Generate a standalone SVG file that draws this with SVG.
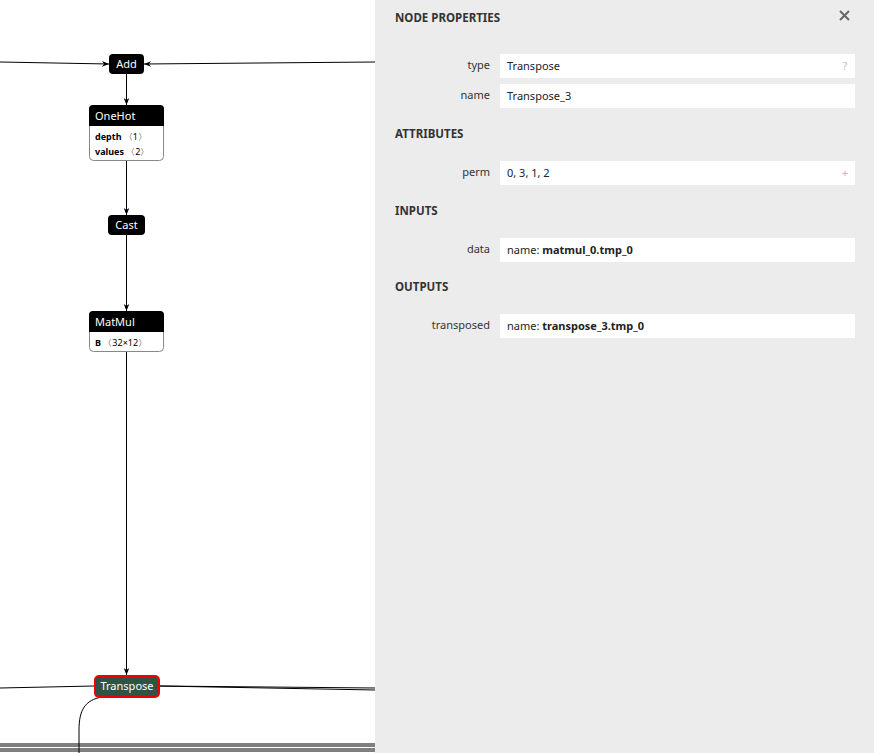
<svg xmlns="http://www.w3.org/2000/svg" width="874" height="753" viewBox="0 0 874 753">
<defs>
<marker id="ah" viewBox="0 0 10 10" refX="10" refY="5" markerWidth="7" markerHeight="7" orient="auto" markerUnits="userSpaceOnUse"><path d="M0,1 L10,5 L0,9 L3,5 Z" fill="#000"/></marker>
<style>
text{font-family:"Noto Sans","DejaVu Sans",sans-serif}
.e{fill:none;stroke:#000;stroke-width:1}
.hd{fill:#000}
.nt{fill:#fff;font-size:11px}
.at{font-size:9px;fill:#000}
.lb{font-size:11px;fill:#333;text-anchor:end}
.fv{font-size:11px;fill:#222}
.fb{fill:#fff}
.sh{font-size:11.5px;font-weight:bold;fill:#333}
</style>
</defs>
<rect width="874" height="753" fill="#fff"/>
<g id="connectors">
<path class="e" d="M0,62 L109,64" marker-end="url(#ah)"/>
<path class="e" d="M375,62 L144,64" marker-end="url(#ah)"/>
<path class="e" d="M126.5,74 V105" marker-end="url(#ah)"/>
<path class="e" d="M126.5,161 V215" marker-end="url(#ah)"/>
<path class="e" d="M126.5,235 V311" marker-end="url(#ah)"/>
<path class="e" d="M126.5,352 V675" marker-end="url(#ah)"/>
<path class="e" d="M0,688 L94,686"/>
<path class="e" d="M159,686 L375,688" stroke-width="1.3"/>
<path class="e" d="M159,686 L375,690" stroke="#555"/>
<path class="e" d="M102,697 C85,700 79,710 79,730 V753"/>
<path class="e" d="M0,744 H375" stroke="#777"/>
<path class="e" d="M0,746 H375" stroke="#555"/>
<path class="e" d="M0,749 H375" stroke="#333"/>
<path class="e" d="M0,751 H375" stroke="#222"/>
</g>
<g id="node-add"><rect x="109" y="54" width="35" height="20" rx="4" class="hd"/><text x="126.5" y="68" class="nt" text-anchor="middle">Add</text></g>
<g id="node-onehot"><rect x="89.5" y="105.5" width="74" height="55" rx="4" fill="#fff" stroke="#888"/><path d="M89,126 V109 a4,4 0 0 1 4,-4 H160 a4,4 0 0 1 4,4 V126 Z" class="hd"/><text x="95" y="120" class="nt">OneHot</text><text x="95" y="140" class="at"><tspan font-weight="bold">depth</tspan> 〈1〉</text><text x="95" y="155" class="at"><tspan font-weight="bold">values</tspan> 〈2〉</text></g>
<g id="node-cast"><rect x="108" y="215" width="37" height="20" rx="4" class="hd"/><text x="126.5" y="229" class="nt" text-anchor="middle">Cast</text></g>
<g id="node-matmul"><rect x="89.5" y="311.5" width="74" height="40" rx="4" fill="#fff" stroke="#888"/><path d="M89,332 V315 a4,4 0 0 1 4,-4 H160 a4,4 0 0 1 4,4 V332 Z" class="hd"/><text x="95" y="326" class="nt">MatMul</text><text x="95" y="346" class="at"><tspan font-weight="bold">B</tspan> 〈32×12〉</text></g>
<g id="node-transpose"><rect x="95" y="676" width="64" height="21" rx="4" fill="#2f5445" stroke="#e00" stroke-width="2"/><text x="127" y="690" class="nt" text-anchor="middle">Transpose</text></g>
<g id="panel">
<rect x="375" y="0" width="499" height="753" fill="#ececec"/>
<text x="395" y="22" class="sh">NODE PROPERTIES</text>
<path d="M840,11 L849,20 M849,11 L840,20" stroke="#666" stroke-width="2" fill="none"/>
<text x="490" y="69" class="lb">type</text><rect x="500" y="54" width="355" height="24" class="fb"/><text x="507" y="70" class="fv">Transpose</text><text x="845" y="70" font-size="10" fill="#bbb" text-anchor="middle">?</text>
<text x="490" y="99" class="lb">name</text><rect x="500" y="84" width="355" height="24" class="fb"/><text x="507" y="100" class="fv">Transpose_3</text>
<text x="395" y="138" class="sh">ATTRIBUTES</text>
<text x="490" y="176" class="lb">perm</text><rect x="500" y="161" width="355" height="24" class="fb"/><text x="507" y="177" class="fv">0, 3, 1, 2</text><text x="845" y="177" font-size="11" fill="#bbb" text-anchor="middle">+</text>
<text x="395" y="215" class="sh">INPUTS</text>
<text x="490" y="253" class="lb">data</text><rect x="500" y="238" width="355" height="24" class="fb"/><text x="507" y="254" class="fv">name: <tspan font-weight="bold">matmul_0.tmp_0</tspan></text>
<text x="395" y="291" class="sh">OUTPUTS</text>
<text x="490" y="329" class="lb">transposed</text><rect x="500" y="314" width="355" height="24" class="fb"/><text x="507" y="330" class="fv">name: <tspan font-weight="bold">transpose_3.tmp_0</tspan></text>
</g>
</svg>
